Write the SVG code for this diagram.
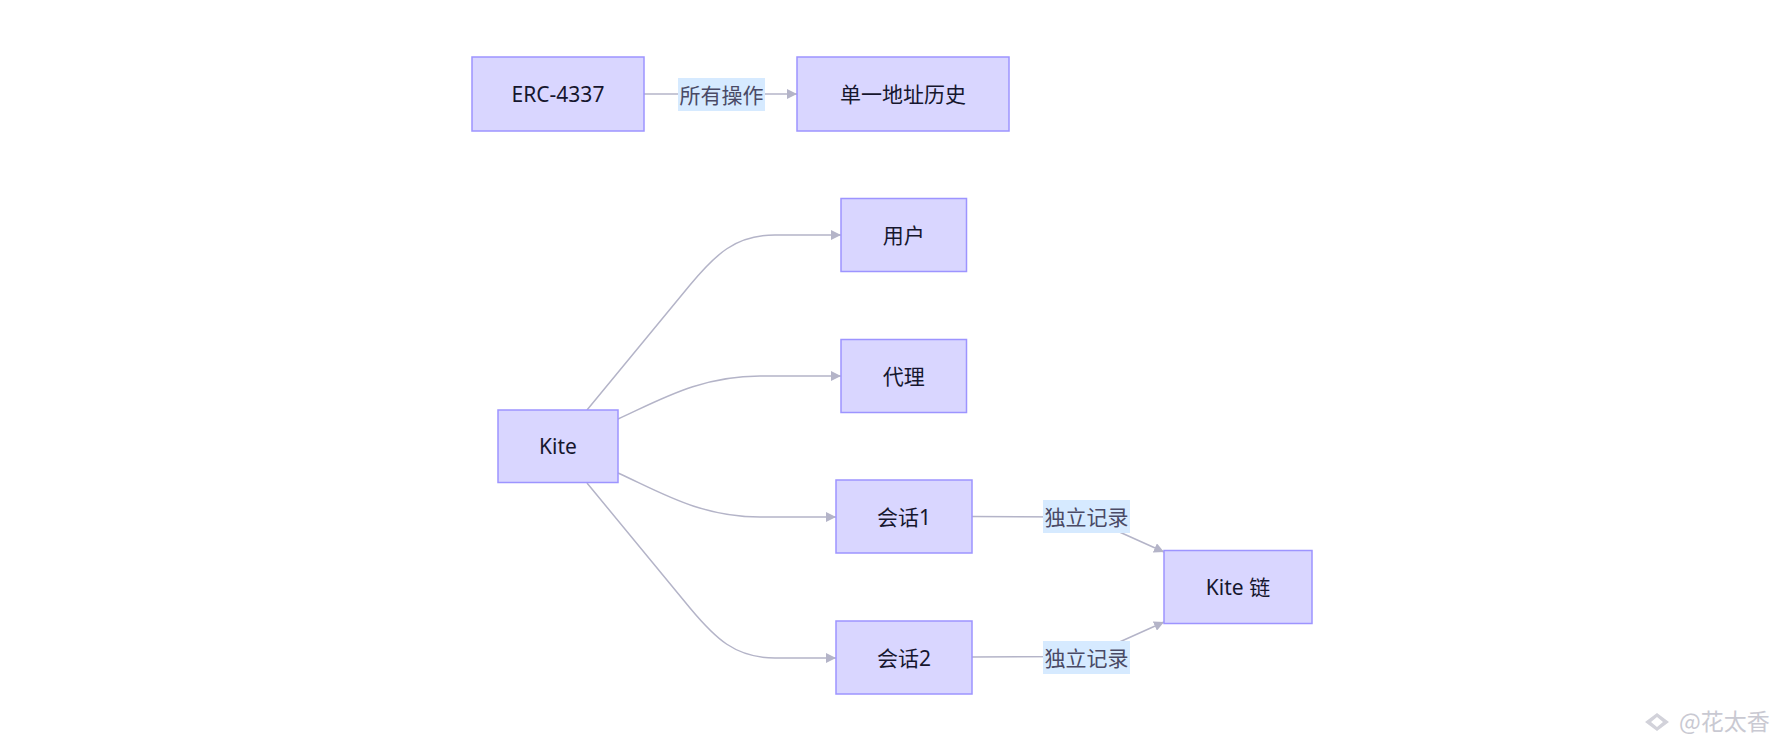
<svg xmlns="http://www.w3.org/2000/svg" width="1784" height="752" viewBox="0 0 1784 752">
<style>
.node rect{fill:#D9D6FF;stroke:#9D94FF;stroke-width:1.5}
.node text{font-family:"Noto Sans","Noto Sans CJK SC",sans-serif;font-size:21px;fill:#16162e;text-anchor:middle;dominant-baseline:central}
.edge{fill:none;stroke:#B4B4C8;stroke-width:1.5}
.lbl rect{fill:#D6EAFF}
.lbl text{font-family:"Noto Sans","Noto Sans CJK SC",sans-serif;font-size:21px;fill:#4a4a66;text-anchor:middle;dominant-baseline:central}
.wm{font-family:"Noto Sans CJK SC","Noto Sans",sans-serif;font-size:23px;fill:#C9C9D2}
</style>
<defs>
<marker id="arr" markerUnits="userSpaceOnUse" markerWidth="11" markerHeight="10" refX="10" refY="5" orient="auto">
<path d="M0,0 L10,5 L0,10 z" fill="#B4B4C8"/>
</marker>
</defs>
<rect width="1784" height="752" fill="#ffffff"/>
<g id="connectors">
<path class="edge" d="M644,94 L797,94" marker-end="url(#arr)"/>
<path class="edge" d="M587,410 L690,285 C715,255 735,235 775,235 L841,235" marker-end="url(#arr)"/>
<path class="edge" d="M618,419 C660,400 700,376 760,376 L841,376" marker-end="url(#arr)"/>
<path class="edge" d="M618,473 C660,492 700,517 760,517 L836,517" marker-end="url(#arr)"/>
<path class="edge" d="M587,483 L690,608 C715,638 735,658 775,658 L836,658" marker-end="url(#arr)"/>
<path class="edge" d="M972,516.5 L1075,517 Q1090,518 1095,521 L1164,552" marker-end="url(#arr)"/>
<path class="edge" d="M972,657 L1075,656.5 Q1090,655 1095,653 L1164,622" marker-end="url(#arr)"/>
<g class="lbl">
<rect x="678" y="78" width="87" height="33"/><text x="721.5" y="94.5">所有操作</text>
<rect x="1043" y="500" width="87" height="33"/><text x="1086.5" y="516.5">独立记录</text>
<rect x="1043" y="641" width="87" height="33"/><text x="1086.5" y="657.5">独立记录</text>
</g>
</g>
<g id="erc" class="node"><rect x="472" y="57" width="172" height="74"/><text x="558" y="94">ERC-4337</text></g>
<g id="history" class="node"><rect x="797" y="57" width="212" height="74"/><text x="903" y="94">单一地址历史</text></g>
<g id="user" class="node"><rect x="841" y="198.5" width="125.5" height="73"/><text x="903.75" y="235">用户</text></g>
<g id="agent" class="node"><rect x="841" y="339.5" width="125.5" height="73"/><text x="903.75" y="376">代理</text></g>
<g id="kite" class="node"><rect x="498" y="410" width="120" height="72.5"/><text x="558" y="446.25">Kite</text></g>
<g id="session1" class="node"><rect x="836" y="480" width="136" height="73"/><text x="904" y="516.5">会话1</text></g>
<g id="session2" class="node"><rect x="836" y="621" width="136" height="73"/><text x="904" y="657.5">会话2</text></g>
<g id="kitechain" class="node"><rect x="1164" y="550.5" width="148" height="73"/><text x="1238" y="587">Kite 链</text></g>
<g id="watermark">
<path d="M1657,713 L1669,722 L1657,731 L1645,722 z M1657,717 L1663,722 L1657,727 L1651,722 z" fill="#D2D2DA" fill-rule="evenodd"/>
<text class="wm" x="1679" y="730">@花太香</text>
</g>
</svg>
